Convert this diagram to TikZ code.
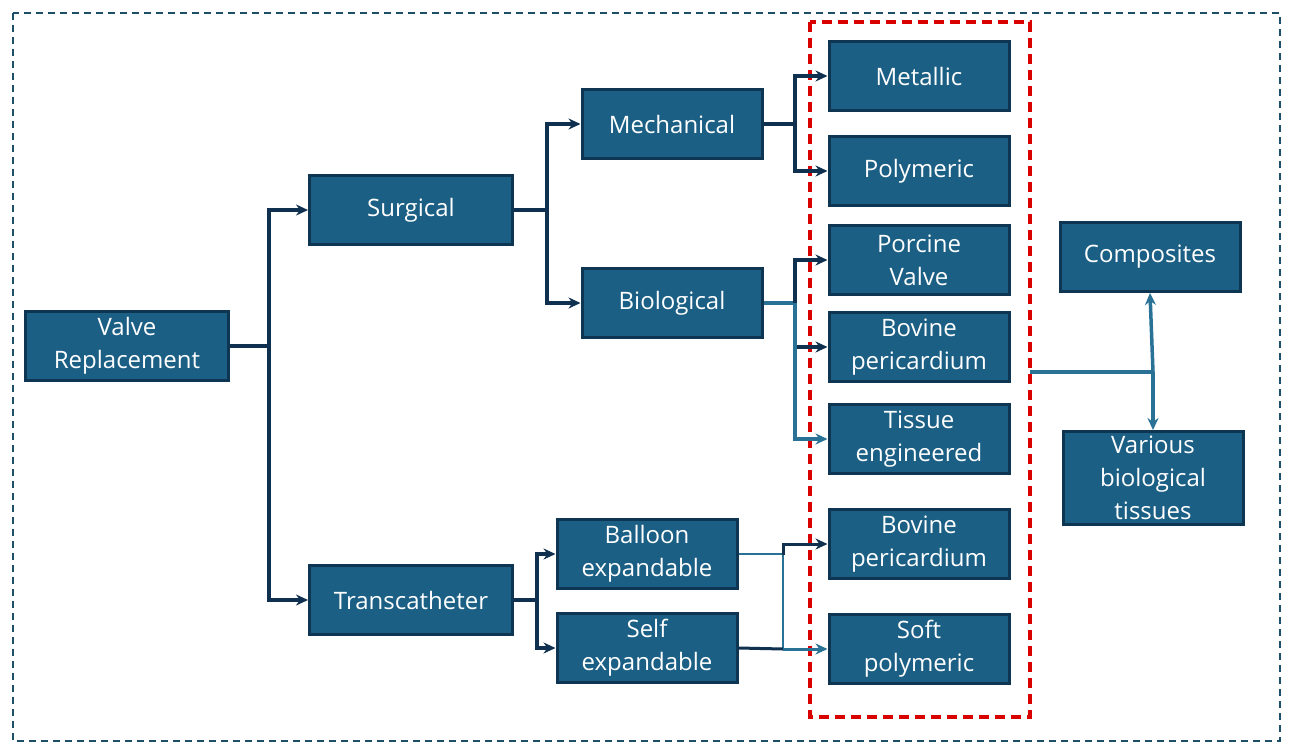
\documentclass[tikz,border=0pt]{standalone}
\usepackage{fontspec}
\setmainfont{Open Sans}
\usetikzlibrary{arrows.meta}
\definecolor{boxf}{HTML}{1B5F85}
\definecolor{boxd}{HTML}{0E3552}
\definecolor{navy}{HTML}{10304F}
\definecolor{teal}{HTML}{2A7196}
\begin{document}
\begin{tikzpicture}[x=1pt,y=-1pt,
 box/.style={draw=boxd,line width=3pt,fill=boxf,text=white,minimum width=180pt,minimum height=69pt,align=center,font=\fontsize{24}{33}\selectfont,inner sep=1pt},
 con/.style={draw=navy,line width=3.5pt,-{Stealth[length=12pt,width=11pt]}},
 tcon/.style={draw=teal,line width=3.5pt,-{Stealth[length=12pt,width=11pt]}}]
\useasboundingbox (0,0) rectangle (1293,752);
\draw[teal!70!black,line width=2.5pt,dash pattern=on 7pt off 5pt] (13,13) rectangle (1280,741);
\draw[red!85!black,line width=3.5pt,dash pattern=on 10pt off 6pt] (810,22) rectangle (1030,717);
\node[box,minimum width=203pt] (vr) at (127,346) {Valve\\Replacement};
\node[box,minimum width=203pt] (sur) at (411,210) {Surgical};
\node[box,minimum width=203pt] (tc) at (411,600) {Transcatheter};
\node[box] (mech) at (672,124) {Mechanical};
\node[box] (bio) at (672,303) {Biological};
\node[box] (bal) at (647,554) {Balloon\\expandable};
\node[box] (self) at (647,648) {Self\\expandable};
\node[box] (met) at (919,76) {Metallic};
\node[box] (pol) at (919,171) {Polymeric};
\node[box] (por) at (919,260) {Porcine\\Valve};
\node[box] (bov) at (919,347) {Bovine\\pericardium};
\node[box] (tis) at (919,439) {Tissue\\engineered};
\node[box] (bov2) at (919,544) {Bovine\\pericardium};
\node[box] (soft) at (919,649) {Soft\\polymeric};
\node[box] (comp) at (1150,257) {Composites};
\node[box,minimum height=93pt] (var) at (1153,478) {Various\\biological\\tissues};
\draw[con] (vr.east) -| (269,210) -- (sur.west);
\draw[con] (269,346) |- (tc.west);
\draw[con] (sur.east) -| (547,124) -- (mech.west);
\draw[con] (547,210) |- (bio.west);
\draw[con] (mech.east) -| (795,76) -- (met.west);
\draw[con] (795,124) |- (pol.west);
\draw[draw=teal,line width=3.5pt] (bio.east) -- (795,303);
\draw[con] (795,303) |- (por.west);
\draw[con] (795,303) |- (bov.west);
\draw[tcon] (795,303) |- (tis.west);
\draw[con] (tc.east) -| (537,554) -- (bal.west);
\draw[con] (537,600) |- (self.west);
\draw[draw=teal,line width=2.5pt] (bal.east) -- (783,554) -- (783,649);
\draw[draw=navy,line width=3pt] (self.east) -- (783,649);
\draw[con,line width=3pt] (783,555) -- (783,544) -- (bov2.west);
\draw[tcon,line width=3pt] (783,649) -- (soft.west);
\coordinate (rb) at (1030,372);
\draw[draw=teal,line width=3.5pt] (rb) -- (1153,372);
\draw[tcon] (1153,372) -- (comp.south);
\draw[tcon] (1153,372) -- (var.north);
\end{tikzpicture}
\end{document}
